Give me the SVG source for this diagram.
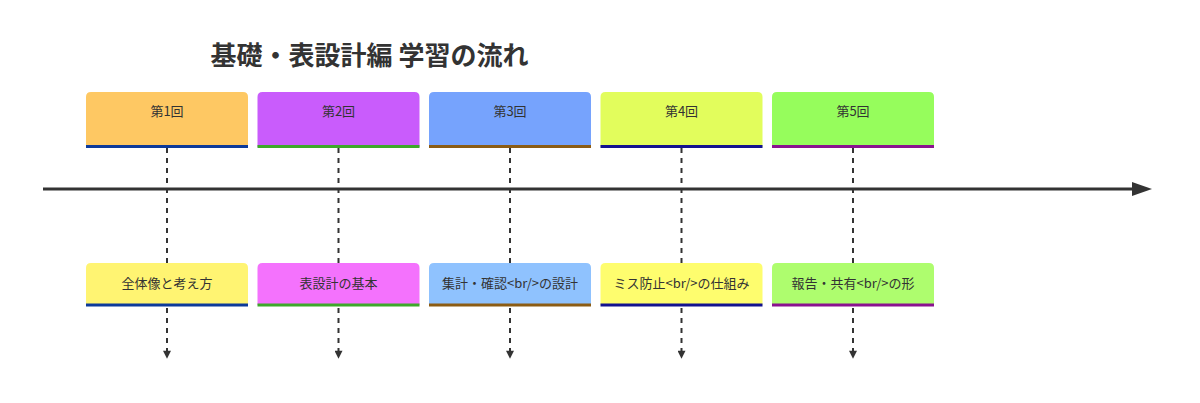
<svg xmlns="http://www.w3.org/2000/svg" width="1200" height="403" viewBox="0 0 1200 403">
<defs>
<style>
text{font-family:"Noto Sans CJK JP","Noto Sans",sans-serif;fill:#333;}
.lbl{font-size:13px;text-anchor:middle;dominant-baseline:central;}
.title{font-size:26px;font-weight:bold;text-anchor:middle;}
.line{stroke-width:3;fill:none;}
.dash{stroke:#333;stroke-width:2;stroke-dasharray:5,5;fill:none;marker-end:url(#ah);}
</style>
<marker id="ah" viewBox="0 0 10 10" refX="9" refY="5" markerWidth="9" markerHeight="8" markerUnits="userSpaceOnUse" orient="auto"><path d="M0,0L10,5L0,10z" fill="#333"/></marker>
</defs>
<rect width="1200" height="403" fill="#fff"/>
<text class="title" x="369.5" y="65">基礎・表設計編 学習の流れ</text>
<g id="connectors">
<line x1="43" y1="189" x2="1134" y2="189" stroke="#333" stroke-width="3"/>
<polygon points="1132,182 1152,189 1132,196" fill="#333"/>
<line class="dash" x1="167" y1="148" x2="167" y2="358"/>
<line class="dash" x1="338.5" y1="148" x2="338.5" y2="358"/>
<line class="dash" x1="510" y1="148" x2="510" y2="358"/>
<line class="dash" x1="681.5" y1="148" x2="681.5" y2="358"/>
<line class="dash" x1="853" y1="148" x2="853" y2="358"/>
</g>
<g id="period1"><path d="M86,147V97Q86,92 91,92H243Q248,92 248,97V147z" fill="#fec863"/><line class="line" x1="86" y1="146.5" x2="248" y2="146.5" stroke="#0c3a9a"/><text class="lbl" x="167" y="110">第1回</text></g>
<g id="period2"><path d="M257.5,147V97Q257.5,92 262.5,92H414.5Q419.5,92 419.5,97V147z" fill="#c95cfc"/><line class="line" x1="257.5" y1="146.5" x2="419.5" y2="146.5" stroke="#3da82a"/><text class="lbl" x="338.5" y="110">第2回</text></g>
<g id="period3"><path d="M429,147V97Q429,92 434,92H586Q591,92 591,97V147z" fill="#76a3fd"/><line class="line" x1="429" y1="146.5" x2="591" y2="146.5" stroke="#8c5c14"/><text class="lbl" x="510" y="110">第3回</text></g>
<g id="period4"><path d="M600.5,147V97Q600.5,92 605.5,92H757.5Q762.5,92 762.5,97V147z" fill="#e2fd5c"/><line class="line" x1="600.5" y1="146.5" x2="762.5" y2="146.5" stroke="#12128f"/><text class="lbl" x="681.5" y="110">第4回</text></g>
<g id="period5"><path d="M772,147V97Q772,92 777,92H929Q934,92 934,97V147z" fill="#96fd5c"/><line class="line" x1="772" y1="146.5" x2="934" y2="146.5" stroke="#8a128f"/><text class="lbl" x="853" y="110">第5回</text></g>
<g id="event1"><path d="M86,305V268Q86,263 91,263H243Q248,263 248,268V305z" fill="#fff472"/><line class="line" x1="86" y1="305" x2="248" y2="305" stroke="#0c3a9a"/><text class="lbl" x="167" y="282">全体像と考え方</text></g>
<g id="event2"><path d="M257.5,305V268Q257.5,263 262.5,263H414.5Q419.5,263 419.5,268V305z" fill="#f472fd"/><line class="line" x1="257.5" y1="305" x2="419.5" y2="305" stroke="#3da82a"/><text class="lbl" x="338.5" y="282">表設計の基本</text></g>
<g id="event3"><path d="M429,305V268Q429,263 434,263H586Q591,263 591,268V305z" fill="#8fc2fe"/><line class="line" x1="429" y1="305" x2="591" y2="305" stroke="#8c5c14"/><text class="lbl" x="510" y="282">集計・確認&lt;br/&gt;の設計</text></g>
<g id="event4"><path d="M600.5,305V268Q600.5,263 605.5,263H757.5Q762.5,263 762.5,268V305z" fill="#fefd6e"/><line class="line" x1="600.5" y1="305" x2="762.5" y2="305" stroke="#12128f"/><text class="lbl" x="681.5" y="282">ミス防止&lt;br/&gt;の仕組み</text></g>
<g id="event5"><path d="M772,305V268Q772,263 777,263H929Q934,263 934,268V305z" fill="#aefd6e"/><line class="line" x1="772" y1="305" x2="934" y2="305" stroke="#8a128f"/><text class="lbl" x="853" y="282">報告・共有&lt;br/&gt;の形</text></g>
</svg>
